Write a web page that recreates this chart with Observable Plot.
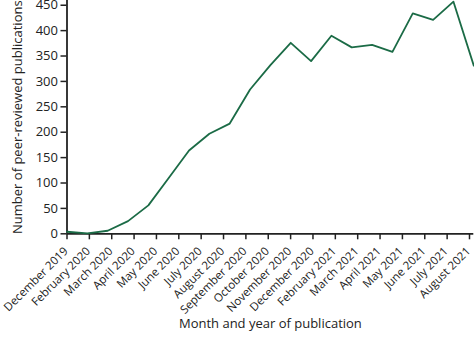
<!DOCTYPE html>
<html><head><meta charset="utf-8">
<script src="https://cdn.jsdelivr.net/npm/d3@7"></script>
<script src="https://cdn.jsdelivr.net/npm/@observablehq/plot@0.6"></script>
<style>html,body{margin:0;padding:0;background:#fff} svg{display:block}</style>
</head><body><div id="chart"></div>
<script>
const months = ["Dec 2019","Jan 2020","Feb 2020","Mar 2020","Apr 2020","May 2020","Jun 2020","Jul 2020","Aug 2020","Sep 2020","Oct 2020","Nov 2020","Dec 2020","Jan 2021","Feb 2021","Mar 2021","Apr 2021","May 2021","Jun 2021","Jul 2021","Aug 2021"];
const counts = [4, 1, 6, 25, 56, 110, 164, 197, 217, 284, 332, 376, 340, 390, 367, 372, 358, 434, 421, 457, 331];
const tickLabels = ["December 2019","February 2020","March 2020","April 2020","May 2020","June 2020","July 2020","August 2020","September 2020","October 2020","November 2020","December 2020","February 2021","March 2021","April 2021","May 2021","June 2021","July 2021","August 2021"];
const yTicks = [0, 50, 100, 150, 200, 250, 300, 350, 400, 450];
const xTitle = "Month and year of publication";
const yTitle = "Number of peer-reviewed publications";

const data = months.map((m, i) => ({i, month: m, count: counts[i]}));
const step = 22.35 / 20.33; // axis tick spacing relative to monthly point spacing
const tickData = tickLabels.map((label, k) => ({pos: k * step, base: 0, label}));

const chart = Plot.plot({
  width: 474, height: 337,
  marginLeft: 66.5, marginRight: 0.7, marginTop: 0, marginBottom: 103.7,
  style: {fontFamily: "'Open Sans', sans-serif", fontSize: "13px", color: "#222", background: "#fff", overflow: "visible"},
  x: {domain: [0, 20], axis: null},
  y: {domain: [0, 459.3], axis: null},
  marks: [
    Plot.axisY({ticks: yTicks, tickSize: 6, tickPadding: 3, strokeWidth: 1.5, label: yTitle, labelAnchor: "center", labelArrow: "none", labelOffset: 54, fontSize: 13}),
    Plot.axisX({ticks: tickData.map(d => d.pos), tickFormat: () => "", tickSize: 6, strokeWidth: 1.5, label: null}),
    Plot.text(tickData, {x: "pos", y: "base", text: "label", rotate: -45, textAnchor: "end", lineAnchor: "middle", dx: -1, dy: 15.5, fontSize: 11.5, fill: "#222"}),
    Plot.text([xTitle], {frameAnchor: "bottom", dy: 94, fontSize: 13, fill: "#222"}),
    Plot.ruleX([0], {stroke: "#222", strokeWidth: 1.8}),
    Plot.ruleY([0], {stroke: "#222", strokeWidth: 1.8}),
    Plot.line(data, {x: "i", y: "count", stroke: "#1b6b46", strokeWidth: 1.8})
  ]
});
document.getElementById("chart").appendChild(chart);
</script>
</body></html>
